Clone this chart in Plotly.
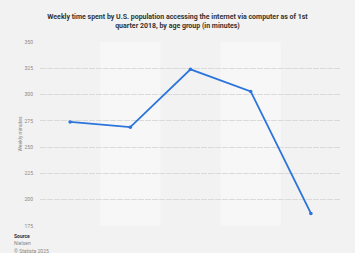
import plotly.graph_objects as go

categories = ["18-24", "25-34", "35-49", "50-64", "65+"]
values = [274, 269, 324, 303, 187]
y_ticks = [175, 200, 225, 250, 275, 300, 325, 350]

fig = go.Figure()

x_idx = list(range(len(categories)))
shapes = []
for i in x_idx:
    if i % 2 == 1:
        shapes.append(dict(type="rect", xref="x", yref="paper", x0=i - 0.5, x1=i + 0.5,
                           y0=0, y1=1, fillcolor="#f7f7f7", line=dict(width=0), layer="below"))

fig.add_trace(go.Scatter(
    x=x_idx, y=values, mode="lines+markers",
    line=dict(color="#2a74dc", width=1.8),
    marker=dict(color="#2a74dc", size=3.5),
    hoverinfo="skip",
))

fig.update_layout(
    width=355, height=253,
    margin=dict(l=40, r=14, t=42, b=27, autoexpand=False),
    paper_bgcolor="#f2f2f2", plot_bgcolor="#f2f2f2",
    showlegend=False,
    shapes=shapes,
    font=dict(family="Roboto, Arial, sans-serif", color="#666"),
    title=dict(
        text="<b>Weekly time spent by U.S. population accessing the internet via computer as of 1st<br>quarter 2018, by age group (in minutes)</b>",
        x=0.5, xanchor="center", y=0.925, yanchor="top",
        font=dict(size=7, color="#333", family="Roboto, Arial, sans-serif"),
    ),
    xaxis=dict(range=[-0.5, 4.5], showticklabels=False, showgrid=False, zeroline=False,
               tickvals=x_idx, ticktext=categories, showline=False),
    yaxis=dict(range=[175, 350], tickvals=y_ticks, ticktext=[str(v) for v in y_ticks],
               showgrid=True, gridcolor="#dadada", gridwidth=0.6, griddash="6px,1px",
               zeroline=False, tickfont=dict(size=5, color="#888"), automargin=False,
               ticklabelstandoff=6,
               title=dict(text="Weekly minutes", font=dict(size=5, color="#888"), standoff=1)),
)

src_lines = [("<b>Source</b>", "#333"), ("Nielsen", "#888"), ("© Statista 2025", "#888")]
ys = [-0.055, -0.095, -0.135]
for (t, c), yy in zip(src_lines, ys):
    fig.add_annotation(text=t, x=-28 / 301, y=yy, xref="paper", yref="paper",
                       showarrow=False, xanchor="left", yanchor="middle",
                       font=dict(size=5, color=c))

fig.write_html("out.html")
